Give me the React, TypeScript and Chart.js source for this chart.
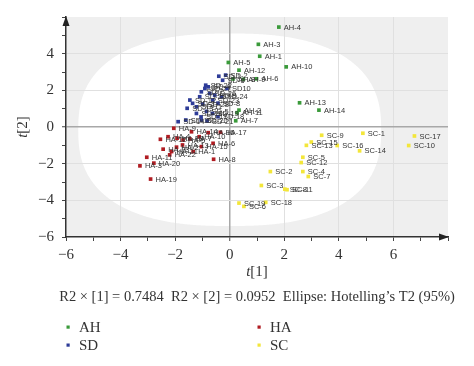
import React, { useEffect, useRef } from 'react';
import { Chart, registerables } from 'chart.js';

Chart.register(...registerables);

// ---------- data ----------
const AH_NAMES = ['AH-1', 'AH-2', 'AH-3', 'AH-4', 'AH-5', 'AH-6', 'AH-7', 'AH-8', 'AH-9', 'AH-10', 'AH-11', 'AH-12', 'AH-13', 'AH-14'];
const AH_X = [1.10, 0.34, 1.05, 1.80, -0.05, 0.98, 0.22, 0.12, 0.50, 2.07, 0.27, 0.34, 2.56, 3.27];
const AH_Y = [3.86, 0.92, 4.51, 5.45, 3.52, 2.63, 0.34, 2.62, 2.60, 3.28, 0.78, 3.10, 1.32, 0.92];

const SD_NAMES = ['SD-1', 'SD-2', 'SD-3', 'SD-4', 'SD-5', 'SD-6', 'SD-7', 'SD-8', 'SD-9', 'SD10', 'SD-11', 'SD-12', 'SD-13', 'SD-14', 'SD-15', 'SD-16', 'SD-17', 'SD-18', 'SD-19', 'SD-20', 'SD-21', 'SD-22', 'SD-23', 'SD-24', 'SD-25', 'SD-26', 'SD-27', 'SD-28'];
const SD_X = [-0.40, -0.15, -1.36, -0.79, -0.85, -0.26, -1.04, -0.43, -0.55, -0.10, -1.22, -1.46, -1.56, -1.89, -1.61, -1.22, -1.05, -0.43, -0.63, -1.04, -0.83, -0.88, -0.62, -0.30, -1.10, -0.73, -0.91, -0.99];
const SD_Y = [2.77, 2.83, 1.29, 2.19, 0.85, 2.55, 1.92, 1.30, 1.74, 2.10, 1.10, 1.47, 1.02, 0.29, 0.38, 0.74, 0.55, 0.56, 0.74, 0.38, 0.33, 2.28, 1.47, 1.65, 1.65, 1.83, 2.10, 1.25];

const HA_NAMES = ['HA-1', 'HA-2', 'HA-3', 'HA-4', 'HA-5', 'HA-6', 'HA-7', 'HA-8', 'HA-9', 'HA-10', 'HA-11', 'HA-12', 'HA-13', 'HA-14', 'HA-15', 'HA-16', 'HA-17', 'HA-18', 'HA-19', 'HA-20', 'HA-21', 'HA-22', 'HA-23'];
const HA_X = [-1.34, -1.95, -3.29, -2.26, -1.71, -0.61, -1.46, -0.59, -2.05, -1.12, -3.04, -2.54, -1.73, -1.40, -1.04, -0.79, -0.34, -1.93, -2.90, -2.78, -2.13, -2.20, -2.44];
const HA_Y = [-1.34, -1.10, -2.12, -0.53, -0.71, -0.89, -0.65, -1.76, -0.07, -0.53, -1.65, -0.67, -0.98, -0.26, -1.07, -0.31, -0.29, -0.61, -2.84, -1.97, -1.34, -1.52, -1.21];

const SC_NAMES = ['SC-1', 'SC-2', 'SC-3', 'SC-4', 'SC-5', 'SC-6', 'SC-7', 'SC-8', 'SC-9', 'SC-10', 'SC-11', 'SC-12', 'SC-13', 'SC-14', 'SC-15', 'SC-16', 'SC-17', 'SC-18', 'SC-19'];
const SC_X = [4.88, 1.49, 1.16, 2.68, 2.68, 0.52, 2.88, 2.02, 3.37, 6.56, 2.10, 2.62, 2.81, 4.76, 2.99, 3.94, 6.77, 1.32, 0.34];
const SC_Y = [-0.34, -2.43, -3.19, -2.43, -1.65, -4.33, -2.70, -3.39, -0.45, -1.01, -3.42, -1.94, -1.00, -1.30, -0.82, -1.01, -0.49, -4.11, -4.15];

const GROUPS = ['AH', 'SD', 'HA', 'SC'];
const COLORS = ['#3a9a3a', '#2e3c98', '#b01c22', '#f3e63a'];

const X_MIN = -6, X_MAX = 8, Y_MIN = -6, Y_MAX = 6;
// Hotelling T2 (95%) ellipse radii in score units
const ELLIPSE_CX = 0, ELLIPSE_CY = -0.15, ELLIPSE_A = 5.55, ELLIPSE_B = 5.25, ELLIPSE_N = 2.5;

const CAPTION = 'R2 × [1] = 0.7484  R2 × [2] = 0.0952  Ellipse: Hotelling’s T2 (95%)';

const SERIF = '"Liberation Serif", "DejaVu Serif", serif';
const SANS = '"Liberation Sans", Arial, sans-serif';

function pts(names: string[], xs: number[], ys: number[]) {
  return names.map((n, i) => ({ x: xs[i], y: ys[i], name: n }));
}

function fmt(v: number) {
  return v < 0 ? '\u2212' + Math.abs(v) : String(v);
}

const bgPlugin = {
  id: 'bg',
  beforeDraw(chart: any) {
    const { ctx, chartArea, scales } = chart;
    const { left, top, right, bottom } = chartArea;
    ctx.save();
    ctx.fillStyle = '#efefef';
    ctx.fillRect(left, top, right - left, bottom - top);
    ctx.beginPath();
    ctx.rect(left, top, right - left, bottom - top);
    ctx.clip();
    ctx.beginPath();
    for (let k = 0; k <= 720; k++) {
      const t = (k / 720) * Math.PI * 2;
      const c = Math.cos(t), s = Math.sin(t);
      const ex = ELLIPSE_CX + ELLIPSE_A * Math.sign(c) * Math.pow(Math.abs(c), 2 / ELLIPSE_N);
      const ey = ELLIPSE_CY + ELLIPSE_B * Math.sign(s) * Math.pow(Math.abs(s), 2 / ELLIPSE_N);
      const px = scales.x.getPixelForValue(ex);
      const py = scales.y.getPixelForValue(ey);
      if (k === 0) ctx.moveTo(px, py); else ctx.lineTo(px, py);
    }
    ctx.closePath();
    ctx.fillStyle = '#ffffff';
    ctx.fill();
    ctx.restore();
  },
};

const labelPlugin = {
  id: 'pointLabels',
  afterDatasetsDraw(chart: any) {
    const ctx = chart.ctx;
    ctx.save();
    ctx.font = '7.5px ' + SANS;
    ctx.fillStyle = '#333';
    ctx.textBaseline = 'middle';
    ctx.textAlign = 'left';
    chart.data.datasets.forEach((ds: any, di: number) => {
      const meta = chart.getDatasetMeta(di);
      meta.data.forEach((el: any, i: number) => {
        ctx.fillText(ds.data[i].name, el.x + 5, el.y + 0.5);
      });
    });
    ctx.restore();
  },
};

const decorPlugin = {
  id: 'decor',
  afterDraw(chart: any) {
    const { ctx, chartArea } = chart;
    const { left, top, right, bottom } = chartArea;
    ctx.save();
    // arrows
    ctx.fillStyle = '#222';
    ctx.beginPath();
    ctx.moveTo(left, top - 1);
    ctx.lineTo(left - 3.5, top + 9);
    ctx.lineTo(left + 3.5, top + 9);
    ctx.closePath();
    ctx.fill();
    ctx.beginPath();
    ctx.moveTo(right + 1, bottom);
    ctx.lineTo(right - 9, bottom - 3.5);
    ctx.lineTo(right - 9, bottom + 3.5);
    ctx.closePath();
    ctx.fill();

    ctx.fillStyle = '#333';
    ctx.textBaseline = 'middle';
    const drawT = (x: number, y: number, idx: string) => {
      ctx.font = 'italic 15px ' + SERIF;
      const w1 = ctx.measureText('t').width;
      ctx.font = '15px ' + SERIF;
      const w2 = ctx.measureText(idx).width;
      const sx = x - (w1 + w2) / 2;
      ctx.textAlign = 'left';
      ctx.font = 'italic 15px ' + SERIF;
      ctx.fillText('t', sx, y);
      ctx.font = '15px ' + SERIF;
      ctx.fillText(idx, sx + w1, y);
    };
    // x title
    drawT((left + right) / 2, 272, '[1]');
    // y title
    ctx.save();
    ctx.translate(23, (top + bottom) / 2);
    ctx.rotate(-Math.PI / 2);
    drawT(0, 0, '[2]');
    ctx.restore();

    // caption
    ctx.font = '14.5px ' + SERIF;
    ctx.textAlign = 'center';
    ctx.fillText(CAPTION, 257, 297);

    // legend
    const lx = [68, 259];
    const ly = [327, 345];
    GROUPS.forEach((g, i) => {
      const col = i === 0 || i === 1 ? 0 : 1;
      const row = i === 0 || i === 2 ? 0 : 1;
      const x = lx[col];
      const y = ly[row];
      ctx.fillStyle = COLORS[i];
      ctx.fillRect(x - 1.5, y - 1.5, 3.2, 3.2);
      ctx.fillStyle = '#333';
      ctx.font = '15px ' + SERIF;
      ctx.textAlign = 'left';
      ctx.fillText(g, x + 11, y + 1);
    });
    ctx.restore();
  },
};

function gridColor(min: number, max: number) {
  return (c: any) => {
    const v = c.tick ? c.tick.value : undefined;
    if (v === undefined) return 'transparent';
    if (v === 0) return '#a8a8a8';
    if (v % 2 === 0 && v > min && v < max) return '#e0e0e0';
    return 'transparent';
  };
}

export default function App() {
  const ref = useRef<HTMLCanvasElement | null>(null);
  useEffect(() => {
    if (!ref.current) return;
    const datasets = [
      pts(AH_NAMES, AH_X, AH_Y),
      pts(SD_NAMES, SD_X, SD_Y),
      pts(HA_NAMES, HA_X, HA_Y),
      pts(SC_NAMES, SC_X, SC_Y),
    ].map((d, i) => ({
      label: GROUPS[i],
      data: d,
      pointStyle: 'rect',
      pointRadius: 2.6,
      pointHoverRadius: 2.6,
      borderWidth: 0,
      backgroundColor: COLORS[i],
      borderColor: COLORS[i],
    }));
    const chart = new Chart(ref.current, {
      type: 'scatter',
      data: { datasets } as any,
      options: {
        responsive: false,
        animation: false,
        devicePixelRatio: 1,
        layout: { padding: { top: 17, right: 26, bottom: 99, left: 0 } },
        plugins: { legend: { display: false }, tooltip: { enabled: false }, title: { display: false } },
        scales: {
          x: {
            type: 'linear',
            min: X_MIN,
            max: X_MAX,
            afterFit: (s: any) => { s.height = 30; },
            ticks: {
              stepSize: 1,
              autoSkip: false,
              maxRotation: 0,
              padding: 5,
              color: '#333',
              font: { family: SERIF, size: 15 },
              callback: (v: any) => { const n = Number(v); return n % 2 === 0 && n < X_MAX ? fmt(n) : ''; },
            },
            grid: {
              color: gridColor(X_MIN, X_MAX),
              lineWidth: (c: any) => (c.tick && c.tick.value === 0 ? 1.5 : 1),
              tickColor: '#444',
              tickLength: 4,
              tickWidth: 1,
            },
            border: { display: true, color: '#333', width: 1.5 },
          },
          y: {
            type: 'linear',
            min: Y_MIN,
            max: Y_MAX,
            afterFit: (s: any) => { s.width = 66; },
            ticks: {
              stepSize: 1,
              autoSkip: false,
              padding: 8,
              color: '#333',
              font: { family: SERIF, size: 15 },
              callback: (v: any) => { const n = Number(v); return n % 2 === 0 && n < Y_MAX ? fmt(n) : ''; },
            },
            grid: {
              color: gridColor(Y_MIN, Y_MAX),
              lineWidth: (c: any) => (c.tick && c.tick.value === 0 ? 1.5 : 1),
              tickColor: '#444',
              tickLength: 4,
              tickWidth: 1,
            },
            border: { display: true, color: '#333', width: 1.5 },
          },
        },
      } as any,
      plugins: [bgPlugin, labelPlugin, decorPlugin],
    });
    return () => chart.destroy();
  }, []);
  return (
    <div style={{ position: 'absolute', left: 0, top: 0, width: 474, height: 366, background: '#fff' }}>
      <canvas ref={ref} width={474} height={366} style={{ display: 'block' }} />
    </div>
  );
}
